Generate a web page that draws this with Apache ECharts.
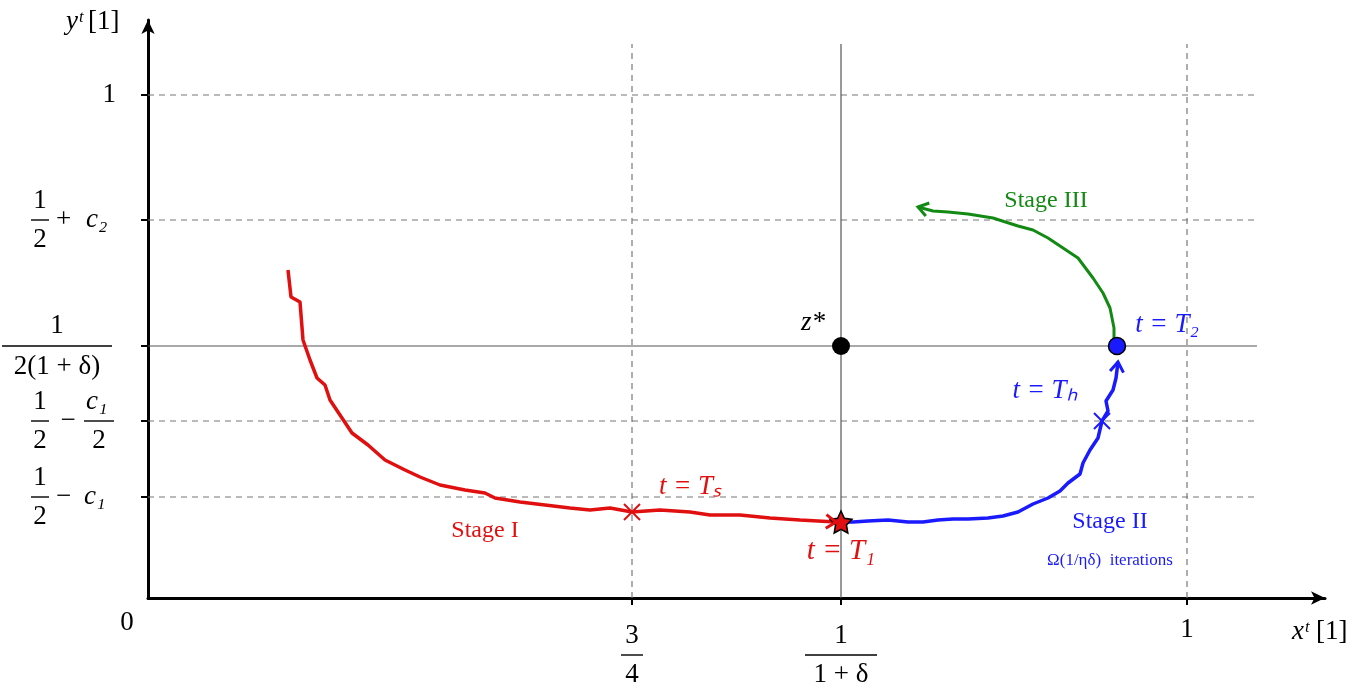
<!DOCTYPE html><html><head><meta charset="utf-8"><script src="https://cdn.jsdelivr.net/npm/echarts@6/dist/echarts.min.js"></script>
<style>html,body{margin:0;background:#fff}#c{width:1362px;height:688px}</style></head><body><div id="c"></div><script>
// abstract units (schematic)
const xTicks=[484,693,1039]; // 3/4, 1/(1+δ), 1
const yTicks=[101,177,252,378,503]; // 1/2-c1, 1/2-c1/2, 1/(2(1+δ)), 1/2+c2, 1
const stage1=[[140,328],[143,301],[152,296],[155,258],[162,238],[169,220],[177,213],[182,198],[192,183],[204,165],[220,153],[237,138],[257,128],[272,121],[292,113],[317,108],[337,105],[347,100],[372,96],[397,93],[422,90],[442,88],[462,90],[484,86],[512,88],[542,86],[562,83],[592,83],[622,80],[652,78],[688,76]];
const stage2=[[693,76],[705,76],[720,77],[740,78],[760,76],[775,76],[790,78],[805,79],[820,79],[840,80],[855,82],[870,86],[885,94],[900,100],[912,107],[920,115],[932,124],[935,135],[942,148],[950,160],[954,177],[960,187],[958,197],[965,208],[968,220],[970,236]];
const stage3=[[966,255],[966,270],[962,290],[955,305],[945,320],[930,340],[915,350],[900,360],[885,368],[870,372],[845,380],[820,384],[800,386],[785,387],[770,391]];
const zStar=[693,252], t2=[969,252], ts=[484,86], th=[954,177], t1=[693,76];
const F='Liberation Serif';
const RED='#e01010',BLUE='#1a1aff',GREEN='#138a13';
const ch=echarts.init(document.getElementById('c'));
function ln(d,c,w,type){return {type:'line',data:d,symbol:'none',silent:true,lineStyle:{color:c,width:w,type:type||'solid'},z:type?1:3}}
const dashH=[yTicks[0],yTicks[1],yTicks[3],yTicks[4]].map(y=>ln([[0,y],[1109,y]],'#777',1.2,[6,5]));
const dashV=[xTicks[0],xTicks[2]].map(x=>ln([[x,0],[x,554]],'#777',1.2,[6,5]));
ch.setOption({animation:false,
grid:{left:148,top:20,right:37,bottom:90},
xAxis:{type:'value',min:0,max:1177,splitLine:{show:false},axisLine:{lineStyle:{color:'#000',width:3},symbol:['none','arrow'],symbolSize:[10,14]},axisTick:{customValues:xTicks,length:7,inside:false,lineStyle:{width:2,color:'#000'}},axisLabel:{show:false}},
yAxis:{type:'value',min:0,max:578,splitLine:{show:false},axisLine:{lineStyle:{color:'#000',width:3},symbol:['none','arrow'],symbolSize:[10,14]},axisTick:{customValues:yTicks,length:7,lineStyle:{width:2,color:'#000'}},axisLabel:{show:false}},
series:[...dashH,...dashV,
ln([[0,yTicks[2]],[1109,yTicks[2]]],'#555',1.2),ln([[xTicks[1],0],[xTicks[1],554]],'#555',1.2),
ln(stage1,RED,3.5),ln(stage2,BLUE,3.5),ln(stage3,GREEN,3),
{type:'scatter',silent:true,z:5,data:[zStar],symbolSize:18,itemStyle:{color:'#000',opacity:1}},
{type:'scatter',silent:true,z:5,data:[t2],symbolSize:17,itemStyle:{color:BLUE,borderColor:'#000',borderWidth:1.5,opacity:1}},
{type:'scatter',silent:true,z:6,data:[t1],symbol:'path://M0,-10L2.9,-4L9.5,-3.1L4.7,1.5L5.9,8.1L0,5L-5.9,8.1L-4.7,1.5L-9.5,-3.1L-2.9,-4Z',symbolSize:22,itemStyle:{color:RED,borderColor:'#000',borderWidth:1.5,opacity:1}},
{type:'scatter',silent:true,z:5,data:[ts],symbol:'path://M-1,-1L1,1M-1,1L1,-1',symbolSize:16,itemStyle:{color:'none',borderColor:RED,borderWidth:2,opacity:1}},
{type:'scatter',silent:true,z:5,data:[th],symbol:'path://M-1,-1L1,1M-1,1L1,-1',symbolSize:16,itemStyle:{color:'none',borderColor:BLUE,borderWidth:2,opacity:1}}
]});
function P(x,y){return ch.convertToPixel({gridIndex:0},[x,y]);}
function arrowHead(pts,color){const a=P(...pts[pts.length-2]),b=P(...pts[pts.length-1]);const ang=Math.atan2(b[1]-a[1],b[0]-a[0]);const L=12,s=0.6;
return {type:'polyline',z:10,shape:{points:[[b[0]-L*Math.cos(ang-s),b[1]-L*Math.sin(ang-s)],b,[b[0]-L*Math.cos(ang+s),b[1]-L*Math.sin(ang+s)]]},style:{stroke:color,lineWidth:3,fill:null}};}
const S='27px "'+F+'"', I='italic 27px "'+F+'"';
function txt(x,y,t,o){return {type:'text',z:10,x:x,y:y,style:Object.assign({text:t,font:S,fill:'#000',align:'center',verticalAlign:'middle'},o||{})};}
function hl(x1,x2,y){return {type:'line',z:10,shape:{x1:x1,y1:y,x2:x2,y2:y},style:{stroke:'#000',lineWidth:1.4}};}
function frac(cx,cy,n,d,w){return [txt(cx,cy-19,n),hl(cx-w/2,cx+w/2,cy),txt(cx,cy+20,d)];}
const it={font:I,align:'left'};
const g=[];
let p;
p=P(0,yTicks[4]);g.push(txt(116,p[1],'1',{align:'right'}));
p=P(0,yTicks[3]);g.push(...frac(40,p[1],'1','2',18),txt(56,p[1],'+',{align:'left'}),txt(86,p[1],'c₂',it));
p=P(0,yTicks[2]);g.push(txt(57,p[1]-20,'1'),hl(2,112,p[1]),txt(57,p[1]+21,'2(1 + δ)'));
p=P(0,yTicks[1]);g.push(...frac(40,p[1],'1','2',18),txt(68,p[1],'−'),txt(86,p[1]-19,'c₁',it),hl(84,114,p[1]),txt(99,p[1]+20,'2'));
p=P(0,yTicks[0]);g.push(...frac(40,p[1],'1','2',18),txt(56,p[1],'−',{align:'left'}),txt(84,p[1],'c₁',it));
p=P(0,0);g.push(txt(127,p[1]+25,'0'));
p=P(xTicks[0],0);g.push(...frac(p[0],p[1]+57,'3','4',22));
p=P(xTicks[1],0);g.push(...frac(p[0],p[1]+57,'1','1 + δ',72));
p=P(xTicks[2],0);g.push(txt(p[0],p[1]+32,'1'));
g.push(txt(1292,632,'xᵗ',it),txt(1316,632,'[1]',{align:'left'}));
g.push(txt(66,22,'yᵗ',it),txt(88,22,'[1]',{align:'left'}));
p=P(...zStar);g.push(txt(p[0]-28,p[1]-23,'z*',{font:I}));
p=P(...t2);g.push(txt(p[0]+50,p[1]-21,'t = T₂',{fill:BLUE,font:I}));
p=P(...th);g.push(txt(p[0]-57,p[1]-30,'t = Tₕ',{fill:BLUE,font:I}));
p=P(...ts);g.push(txt(p[0]+58,p[1]-25,'t = Tₛ',{fill:RED,font:I}));
p=P(...t1);g.push(txt(p[0],p[1]+29,'t = T₁',{fill:RED,font:'italic 29px "'+F+'"'}));
g.push(txt(485,531,'Stage I',{fill:RED,font:'24px "'+F+'"'}));
g.push(txt(1110,522,'Stage II',{fill:BLUE,font:'24px "'+F+'"'}));
g.push(txt(1110,561,'Ω(1/ηδ)  iterations',{fill:BLUE,font:'17px "'+F+'"'}));
g.push(txt(1046,201,'Stage III',{fill:GREEN,font:'24px "'+F+'"'}));
g.push(arrowHead(stage1,RED),arrowHead(stage2,BLUE),arrowHead(stage3,GREEN));
ch.setOption({graphic:{elements:g}});
</script></body></html>
